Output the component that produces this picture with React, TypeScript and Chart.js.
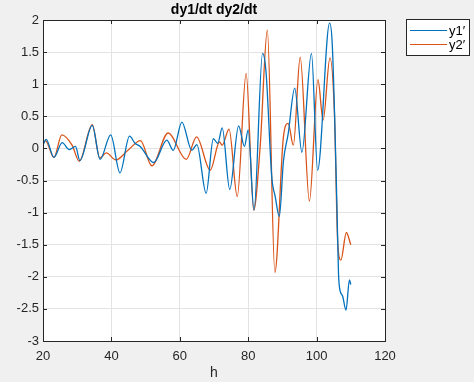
import React, { useEffect, useRef } from "react";
import { Chart, registerables } from "chart.js";

Chart.register(...registerables);

const TITLE = "dy1/dt dy2/dt";
const X_LABEL = "h";
const SERIES_LABELS = ["y1\u2032", "y2\u2032"];
const SERIES_COLORS = ["#0072BD", "#D95319"];

const y1X = [20, 20.9, 23.2, 25.6, 27.7, 29.5, 30.8, 34.4, 36.7, 39.8, 42.5, 45.3, 46.9, 48.4, 52.4, 56.2, 58.1, 60.6, 63.5, 65.0, 67.7, 69.8, 71.1, 72.4, 74.6, 77.2, 78.9, 80.0, 81.7, 84.2, 85.2, 86.9, 87.9, 89.1, 90.3, 91.7, 93.6, 95.7, 98.5, 100.3, 103.8, 104.6, 105.9, 106.4, 106.8, 107.6, 108.6, 109.6, 110];
const y1Y = [0.05, 0.14, -0.14, 0.09, -0.02, 0.03, -0.19, 0.36, -0.17, 0.21, -0.38, 0.19, 0.08, 0.03, -0.22, 0.13, -0.03, 0.41, -0.03, 0.06, -0.7, 0.15, 0.08, 0.32, -0.64, 0.35, 0.03, 0.29, -0.96, 1.48, 1.2, -0.45, -0.75, -1.06, -0.2, 0.23, 0.94, -0.06, 1.48, -0.34, 1.95, 1.6, -0.8, -1.94, -2.2, -2.3, -2.52, -2.05, -2.12];

const y2X = [20, 20.7, 23.2, 25.5, 28.5, 30.6, 34.4, 36.6, 38.5, 41.3, 45.0, 48.5, 51.8, 56.6, 61.9, 64.9, 68.9, 71.6, 72.4, 74.4, 76.8, 79.4, 81.6, 83.5, 85.6, 87.8, 90.3, 91.7, 93.2, 95.2, 97.9, 100.4, 101.9, 103.9, 105.2, 106.2, 107.1, 108.7, 110];
const y2Y = [0.08, 0.12, -0.14, 0.21, 0.05, -0.2, 0.37, -0.15, -0.07, -0.18, -0.02, 0.12, -0.27, 0.24, -0.17, 0.18, -0.34, 0.1, 0.05, 0.3, -0.75, 1.17, -0.96, 0.03, 1.84, -1.93, 0.18, 0.39, 0.05, 1.42, -0.82, 1.07, 0.44, 1.41, 0.57, -1.5, -1.74, -1.31, -1.5];

const X_MIN = 20, X_MAX = 120, X_STEP = 20;
const Y_MIN = -3, Y_MAX = 2, Y_STEP = 0.5;

const FONT = "'Liberation Sans', Arial, Helvetica, sans-serif";
const AXIS_COLOR = "#262626";

const matlabPlugin = {
  id: "matlabDecor",
  beforeDraw(chart: any) {
    const { ctx, chartArea: a } = chart;
    ctx.save();
    ctx.fillStyle = "#f0f0f0";
    ctx.fillRect(0, 0, chart.width, chart.height);
    ctx.fillStyle = "#ffffff";
    ctx.fillRect(a.left, a.top, a.right - a.left, a.bottom - a.top);
    ctx.restore();
  },
  afterDraw(chart: any) {
    const { ctx, chartArea: a, scales } = chart;
    ctx.save();
    ctx.strokeStyle = AXIS_COLOR;
    ctx.lineWidth = 1;
    ctx.strokeRect(Math.round(a.left) + 0.5, Math.round(a.top) + 0.5, Math.round(a.right - a.left), Math.round(a.bottom - a.top));
    const tl = 4;
    ctx.beginPath();
    scales.x.ticks.forEach((t: any) => {
      const px = Math.round(scales.x.getPixelForValue(t.value)) + 0.5;
      ctx.moveTo(px, a.bottom);
      ctx.lineTo(px, a.bottom - tl);
      ctx.moveTo(px, a.top);
      ctx.lineTo(px, a.top + tl);
    });
    scales.y.ticks.forEach((t: any) => {
      const py = Math.round(scales.y.getPixelForValue(t.value)) + 0.5;
      ctx.moveTo(a.left, py);
      ctx.lineTo(a.left + tl, py);
      ctx.moveTo(a.right, py);
      ctx.lineTo(a.right - tl, py);
    });
    ctx.stroke();
    ctx.fillStyle = "#000000";
    ctx.font = "bold 14px " + FONT;
    ctx.textAlign = "center";
    ctx.textBaseline = "middle";
    ctx.fillText(TITLE, (a.left + a.right) / 2, 10);
    ctx.fillStyle = AXIS_COLOR;
    ctx.font = "14px " + FONT;
    ctx.fillText(X_LABEL, (a.left + a.right) / 2, 373);
    const lx = 406, ly = 19, lw = 63, lh = 36;
    ctx.fillStyle = "#ffffff";
    ctx.fillRect(lx, ly, lw, lh);
    ctx.strokeStyle = AXIS_COLOR;
    ctx.strokeRect(lx + 0.5, ly + 0.5, lw, lh);
    ctx.font = "13px " + FONT;
    ctx.textAlign = "left";
    chart.data.datasets.forEach((ds: any, i: number) => {
      const yy = ly + 11 + i * 14;
      ctx.strokeStyle = ds.borderColor;
      ctx.lineWidth = 1.2;
      ctx.beginPath();
      ctx.moveTo(lx + 4, yy + 0.5);
      ctx.lineTo(lx + 41, yy + 0.5);
      ctx.stroke();
      ctx.fillStyle = "#000000";
      ctx.fillText(ds.label, lx + 43, yy + 1);
    });
    ctx.restore();
  },
};

export default function App() {
  const ref = useRef<HTMLCanvasElement | null>(null);
  useEffect(() => {
    document.body.style.margin = "0";
    const canvas = ref.current;
    if (!canvas) return;
    const chart = new Chart(canvas, {
      type: "line",
      data: {
        datasets: [
          {
            label: SERIES_LABELS[0],
            data: y1X.map((x, i) => ({ x, y: y1Y[i] })),
            borderColor: SERIES_COLORS[0],
            backgroundColor: SERIES_COLORS[0],
            borderWidth: 1.3,
            pointRadius: 0,
            cubicInterpolationMode: "monotone",
          },
          {
            label: SERIES_LABELS[1],
            data: y2X.map((x, i) => ({ x, y: y2Y[i] })),
            borderColor: SERIES_COLORS[1],
            backgroundColor: SERIES_COLORS[1],
            borderWidth: 1.3,
            pointRadius: 0,
            cubicInterpolationMode: "monotone",
          },
        ],
      },
      options: {
        responsive: false,
        animation: false,
        layout: { padding: { top: 20, right: 89, left: 0, bottom: 0 } },
        plugins: { legend: { display: false }, title: { display: false }, tooltip: { enabled: false } },
        scales: {
          x: {
            type: "linear",
            min: X_MIN,
            max: X_MAX,
            afterFit: (s: any) => { s.height = 41; },
            ticks: {
              stepSize: X_STEP,
              color: AXIS_COLOR,
              font: { family: FONT, size: 13 },
              padding: 8,
              maxRotation: 0,
              callback: (v: any) => String(v),
            },
            grid: { color: "#e3e3e3", drawTicks: false },
            border: { display: false },
          },
          y: {
            type: "linear",
            min: Y_MIN,
            max: Y_MAX,
            afterFit: (s: any) => { s.width = 43; },
            ticks: {
              stepSize: Y_STEP,
              color: AXIS_COLOR,
              font: { family: FONT, size: 13 },
              padding: 4,
              callback: (v: any) => String(v),
            },
            grid: { color: "#e3e3e3", drawTicks: false },
            border: { display: false },
          },
        },
      },
      plugins: [matlabPlugin],
    } as any);
    return () => chart.destroy();
  }, []);
  return (
    <div style={{ width: 474, height: 382, background: "#f0f0f0" }}>
      <canvas ref={ref} width={474} height={382} style={{ display: "block" }} />
    </div>
  );
}
